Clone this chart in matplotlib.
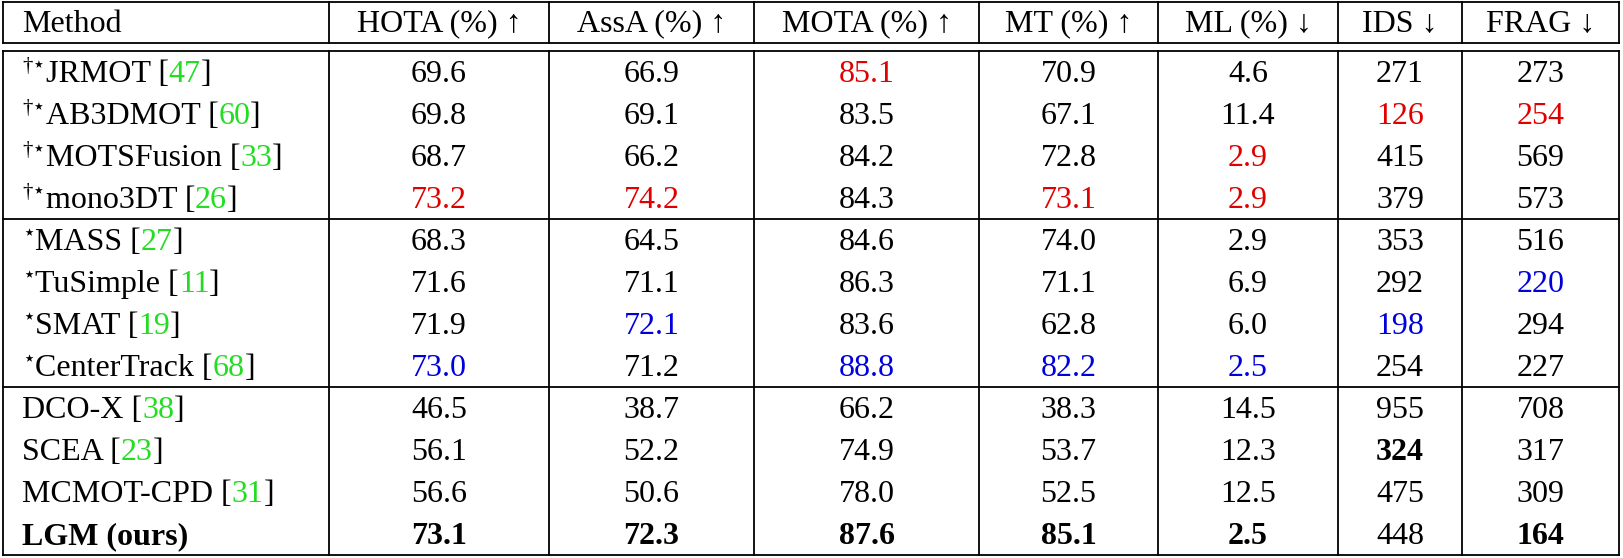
import matplotlib

matplotlib.use("Agg")
import matplotlib.pyplot as plt

plt.rcParams["font.family"] = ["Liberation Serif", "DejaVu Serif", "DejaVu Sans"]

headers = ["Method", "HOTA (%) \u2191", "AssA (%) \u2191", "MOTA (%) \u2191", "MT (%) \u2191",
           "ML (%) \u2193", "IDS \u2193", "FRAG \u2193"]
prefixes = ["\u2020\u22c6"] * 4 + ["\u22c6"] * 4 + [""] * 4
methods = ["JRMOT", "AB3DMOT", "MOTSFusion", "mono3DT", "MASS", "TuSimple", "SMAT",
           "CenterTrack", "DCO-X", "SCEA", "MCMOT-CPD", "LGM (ours)"]
refs = ["47", "60", "33", "26", "27", "11", "19", "68", "38", "23", "31", None]
values = [
    ["69.6", "66.9", "85.1", "70.9", "4.6", "271", "273"],
    ["69.8", "69.1", "83.5", "67.1", "11.4", "126", "254"],
    ["68.7", "66.2", "84.2", "72.8", "2.9", "415", "569"],
    ["73.2", "74.2", "84.3", "73.1", "2.9", "379", "573"],
    ["68.3", "64.5", "84.6", "74.0", "2.9", "353", "516"],
    ["71.6", "71.1", "86.3", "71.1", "6.9", "292", "220"],
    ["71.9", "72.1", "83.6", "62.8", "6.0", "198", "294"],
    ["73.0", "71.2", "88.8", "82.2", "2.5", "254", "227"],
    ["46.5", "38.7", "66.2", "38.3", "14.5", "955", "708"],
    ["56.1", "52.2", "74.9", "53.7", "12.3", "324", "317"],
    ["56.6", "50.6", "78.0", "52.5", "12.5", "475", "309"],
    ["73.1", "72.3", "87.6", "85.1", "2.5", "448", "164"],
]
# r = red (best), b = blue (second), B = bold, . = plain
marks = [
    "..r....",
    ".....rr",
    "....r..",
    "rr.rr..",
    ".......",
    "......b",
    ".b...b.",
    "b.bbb..",
    ".......",
    ".....B.",
    ".......",
    "BBBBB.B",
]
colors = {"r": "#e00000", "b": "#0000dd", ".": "black", "B": "black"}
GREEN = "#22dd22"

col_edges = [3, 329, 549, 754, 979, 1158, 1338, 1462, 1619]
top, head_bot, body_top, row_h = 2, 43, 51, 42
groups = [4, 4, 4]
FS = 23

fig = plt.figure(figsize=(16.23, 5.58), dpi=100)
ax = fig.add_axes([0, 0, 1, 1])
ax.set_xlim(0, 1623)
ax.set_ylim(558, 0)
ax.axis("off")
fig.canvas.draw()
renderer = fig.canvas.get_renderer()

bottom = body_top + row_h * len(methods)
lw = 1.3
for y in [top, head_bot, body_top, bottom]:
    ax.plot([col_edges[0], col_edges[-1]], [y, y], color="black", lw=lw)
for x in col_edges:
    ax.plot([x, x], [top, head_bot], color="black", lw=lw)
    ax.plot([x, x], [body_top, bottom], color="black", lw=lw)
cum = 0
for g in groups[:-1]:
    cum += g
    y = body_top + cum * row_h
    ax.plot([col_edges[0], col_edges[-1]], [y, y], color="black", lw=lw)

# header
hy = (top + head_bot) / 2 + 9
ax.text(22, hy, headers[0], fontsize=FS, va="baseline", ha="left")
for j, h in enumerate(headers[1:], start=1):
    cx = (col_edges[j] + col_edges[j + 1]) / 2
    ax.text(cx, hy, h, fontsize=FS, va="baseline", ha="center")


def draw_pieces(x, y, pieces):
    # pieces: (text, color, size, weight, dy)
    for txt, col, size, weight, dy in pieces:
        t = ax.text(x, y + dy, txt, fontsize=size, color=col, fontweight=weight,
                    va="baseline", ha="left")
        bb = t.get_window_extent(renderer)
        x += bb.width * 1623 / fig.bbox.width
    return x


for i, name in enumerate(methods):
    cy = body_top + row_h * (i + 0.5)
    base = cy + 10
    pieces = []
    if prefixes[i]:
        pieces.append((prefixes[i], "black", 15, "normal", -11))
    if refs[i] is None:
        pieces.append((name, "black", FS, "bold", 0))
    else:
        pieces += [(name + " [", "black", FS, "normal", 0), (refs[i], GREEN, FS, "normal", 0),
                   ("]", "black", FS, "normal", 0)]
    draw_pieces(22, base, pieces)
    for j, v in enumerate(values[i]):
        m = marks[i][j]
        cx = (col_edges[j + 1] + col_edges[j + 2]) / 2
        ax.text(cx, base, v, fontsize=FS, color=colors[m], va="baseline", ha="center",
                fontweight="bold" if m == "B" else "normal")

fig.savefig("out.png", dpi=100)
